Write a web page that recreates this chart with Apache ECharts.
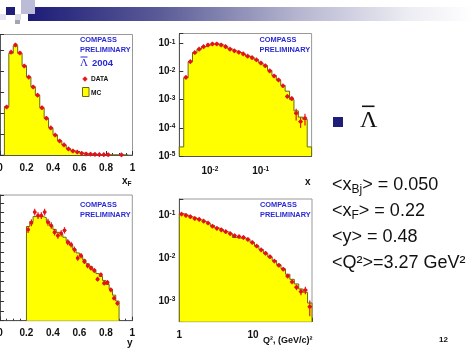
<!DOCTYPE html>
<html><head><meta charset="utf-8">
<script src="https://cdn.jsdelivr.net/npm/echarts@6/dist/echarts.min.js"></script>
<style>html,body{margin:0;padding:0;background:#fff;overflow:hidden}#c{width:474px;height:355px}</style>
</head><body><div id="c"></div>
<script>
// ---------- Panel 1 : x_F (linear) ----------
const xfFirstEdge = 1/30, xfBinWidth = 1/30;
const xfData = [2.29, 4.90, 5.24, 4.86, 4.24, 3.71, 3.24, 2.85, 2.25, 1.75, 1.29, 0.95, 0.67, 0.48, 0.29, 0.19, 0.14, 0.08, 0.05, 0.04, 0.03, 0.02, 0.02, 0.015, null, null, 0.01];
const xfErr  = [0.07, 0.09, 0.09, 0.09, 0.08, 0.08, 0.07, 0.07, 0.06, 0.06, 0.05, 0.05, 0.04, 0.04, 0.03, 0.03, 0.02, 0.02, 0.02, 0.01, 0.01, 0.01, 0.01, 0.01, null, null, 0.01];
const xfMC   = [2.30, 4.85, 5.20, 4.85, 4.25, 3.72, 3.25, 2.85, 2.25, 1.75, 1.30, 0.96, 0.68, 0.48, 0.30, 0.20, 0.14, 0.09, 0.06, 0.04, 0.03, 0.02, 0.015, 0.012, 0.01, 0.006, 0.005, 0.003];
const xfTicks = ['0', '0.2', '0.4', '0.6', '0.8', '1'];

// ---------- Panel 2 : x Bjorken (log-log), 30 bins in log10 from -2.6 to 0 ----------
const xBjLogStart = -2.6, xBjLogWidth = 2.6/30;
const xBjData = [6.2e-3, 2.24e-2, 4.7e-2, 6.2e-2, 7.6e-2, 8.7e-2, 9.5e-2, 9.5e-2, 8.7e-2, 7.6e-2, 6.2e-2, 5.4e-2, 4.8e-2, 4.2e-2, 3.5e-2, 3.1e-2, 2.6e-2, 2.0e-2, 1.6e-2, 1.05e-2, 6.9e-3, 5.0e-3, 3.1e-3, 1.3e-3, 1.1e-3, 3.3e-4, 1.66e-4, 2.2e-4]; // bins 1..28
const xBjErr  = [0.08, 0.04, 0.03, 0.03, 0.03, 0.03, 0.03, 0.03, 0.03, 0.03, 0.03, 0.03, 0.03, 0.03, 0.03, 0.03, 0.04, 0.04, 0.05, 0.06, 0.07, 0.08, 0.10, 0.15, 0.18, 0.45, 0.40, 0.45]; // relative
const xBjMC   = [2.1e-5, 6.0e-3, 2.2e-2, 4.6e-2, 6.2e-2, 7.6e-2, 8.7e-2, 9.4e-2, 9.4e-2, 8.8e-2, 7.7e-2, 6.3e-2, 5.4e-2, 4.8e-2, 4.2e-2, 3.5e-2, 3.1e-2, 2.6e-2, 2.0e-2, 1.6e-2, 1.1e-2, 7.2e-3, 5.0e-3, 3.2e-3, 2.0e-3, 1.0e-3, 4.0e-4, 2.4e-4, 2.0e-4, 2.1e-5]; // bins 0..29
const xBjXTicks = [1e-2, 1e-1], xBjXLabels = ['10{e|-2}', '10{e|-1}'];
const xBjYTicks = [1e-5, 1e-4, 1e-3, 1e-2, 1e-1], xBjYLabels = ['10{e|-5}', '10{e|-4}', '10{e|-3}', '10{e|-2}', '10{e|-1}'];

// ---------- Panel 3 : y (linear), 28 bins from 0.2 to 0.9 ----------
const yFirstEdge = 0.2, yBinWidth = 0.025;
const yData = [9.28, 9.97, 11.06, 10.70, 10.70, 11.06, 10.03, 9.69, 9.01, 8.67, 8.90, 9.20, 7.99, 7.75, 7.24, 6.38, 6.62, 6.04, 5.60, 5.36, 5.12, 4.23, 4.68, 3.82, 3.89, 3.14, 2.29, 1.77];
const yErr  = [0.35, 0.35, 0.35, 0.35, 0.35, 0.35, 0.35, 0.33, 0.33, 0.32, 0.32, 0.32, 0.3, 0.3, 0.3, 0.28, 0.28, 0.27, 0.26, 0.26, 0.25, 0.24, 0.24, 0.23, 0.23, 0.22, 0.2, 0.18];
const yMC   = [9.6, 10.1, 10.6, 10.6, 10.6, 10.5, 10.1, 9.7, 9.3, 9.0, 8.8, 8.5, 8.1, 7.7, 7.3, 6.9, 6.6, 6.2, 5.8, 5.5, 5.2, 4.8, 4.5, 4.1, 3.7, 3.2, 2.6, 2.0];
const yTicks = ['0', '0.2', '0.4', '0.6', '0.8', '1'];

// ---------- Panel 4 : Q^2 (log-log), 30 bins in log10 from 0 to 1.8 ----------
const q2LogStart = 0, q2LogWidth = 0.06;
const q2Data = [0.105, 0.098, 0.091, 0.083, 0.079, 0.072, 0.065, 0.055, 0.049, 0.045, 0.041, 0.037, 0.033, 0.0316, 0.030, 0.027, 0.023, 0.019, 0.0155, 0.0129, 0.0107, 0.0085, 0.0068, 0.0055, 0.0038, 0.0028, 0.0021, 0.00166, 0.0018, 0.00074];
const q2Err  = [0.02, 0.02, 0.02, 0.02, 0.02, 0.02, 0.02, 0.03, 0.03, 0.03, 0.03, 0.03, 0.03, 0.03, 0.04, 0.04, 0.04, 0.05, 0.05, 0.06, 0.06, 0.07, 0.08, 0.09, 0.10, 0.12, 0.15, 0.18, 0.20, 0.40];
const q2MC   = [0.108, 0.099, 0.091, 0.084, 0.078, 0.071, 0.064, 0.057, 0.050, 0.046, 0.041, 0.037, 0.030, 0.029, 0.029, 0.027, 0.023, 0.019, 0.0158, 0.0128, 0.0106, 0.0087, 0.0070, 0.0056, 0.0042, 0.0032, 0.0025, 0.0019, 0.0016, 0.0009];
const q2XTicks = [1, 10], q2XLabels = ['1', '10'];
const q2YTicks = [1e-3, 1e-2, 1e-1], q2YLabels = ['10{e|-3}', '10{e|-2}', '10{e|-1}'];

// ---------- helpers ----------
const linEdges = (start, w, n) => Array.from({length: n + 1}, (_, i) => start + i * w);
const logEdges = (start, w, n) => Array.from({length: n + 1}, (_, i) => Math.pow(10, start + i * w));

function stepPoints(edges, vals, base) {
  const pts = [[edges[0], base]];
  vals.forEach((v, i) => pts.push([edges[i], v == null ? base : v]));
  const n = vals.length;
  pts.push([edges[n], vals[n - 1] == null ? base : vals[n - 1]]);
  pts.push([edges[n], base]);
  return pts;
}
function dataPoints(edges, vals, errs, relative, logx) {
  const out = [];
  vals.forEach((v, i) => {
    if (v == null) return;
    const lo = edges[i], hi = edges[i + 1];
    const c = logx ? Math.sqrt(lo * hi) : (lo + hi) / 2;
    const e = relative ? v * errs[i] : errs[i];
    out.push([c, v, v - e, v + e, lo, hi]);
  });
  return out;
}
const RED = '#e3121b';
function renderData(params, api) {
  const c = api.coord([api.value(0), api.value(1)]);
  const lo = api.coord([api.value(0), api.value(2)]);
  const hi = api.coord([api.value(0), api.value(3)]);
  const l = api.coord([api.value(4), api.value(1)]);
  const r = api.coord([api.value(5), api.value(1)]);
  const st = {stroke: RED, lineWidth: 1.2};
  const y1 = Math.max(lo[1], c[1] + 2.3), y2 = Math.min(hi[1], c[1] - 2.3);
  return {type: 'group', children: [
    {type: 'line', shape: {x1: c[0], y1: y1, x2: c[0], y2: y2}, style: st},
    {type: 'line', shape: {x1: l[0], y1: c[1], x2: r[0], y2: c[1]}, style: st},
    {type: 'circle', shape: {cx: c[0], cy: c[1], r: 1.9}, style: {fill: RED}}
  ]};
}

// edges
const xfEdges = linEdges(xfFirstEdge, xfBinWidth, xfMC.length);
const xfDataEdges = linEdges(xfFirstEdge, xfBinWidth, xfData.length);
const xBjEdges = logEdges(xBjLogStart, xBjLogWidth, xBjMC.length);
const xBjDataEdges = xBjEdges.slice(1);
const yEdges = linEdges(yFirstEdge, yBinWidth, yMC.length);
const q2Edges = logEdges(q2LogStart, q2LogWidth, q2MC.length);

const P2YMIN = 1e-5, P2YMAX = Math.pow(10, -0.652);
const P4YMIN = Math.pow(10, -3.48), P4YMAX = Math.pow(10, -0.628);

const FONT = 'Liberation Sans';
const labBase = {fontFamily: FONT, fontWeight: 'bold', fontSize: 10, color: '#111',
  rich: {e: {fontFamily: FONT, fontWeight: 'bold', fontSize: 6.5, lineHeight: 7, verticalAlign: 'top', color: '#111'}}};
const tick = {show: true, inside: true, length: 4, lineStyle: {color: '#333', width: 1}};
const axLine = {show: true, lineStyle: {color: '#555', width: 1}};
function logFmt(ticks, labels) {
  return v => {
    const i = ticks.findIndex(t => Math.abs(Math.log10(t) - Math.log10(v)) < 1e-6);
    return i < 0 ? '' : labels[i];
  };
}
const gridBase = {show: true, borderColor: '#999', borderWidth: 1, backgroundColor: 'transparent', containLabel: false, outerBoundsMode: 'none'};

const chart = echarts.init(document.getElementById('c'), null, {renderer: 'canvas'});
const option = {
  animation: false,
  backgroundColor: '#fff',
  grid: [
    Object.assign({left: 0, top: 34.5, width: 132.5, height: 120.5}, gridBase),
    Object.assign({left: 179.3, top: 33.5, width: 132.3, height: 122.5}, gridBase),
    Object.assign({left: 0, top: 195, width: 132.3, height: 125.7}, gridBase),
    Object.assign({left: 179.3, top: 199, width: 132.7, height: 122.7}, gridBase)
  ],
  xAxis: [
    {gridIndex: 0, type: 'value', min: 0, max: 1, interval: 0.2, axisLine: axLine, axisTick: tick,
     minorTick: {show: true, splitNumber: 4, length: 2, lineStyle: {color: '#333'}}, splitLine: {show: false},
     axisLabel: Object.assign({margin: 8, formatter: (v, i) => xfTicks[i]}, labBase)},
    {gridIndex: 1, type: 'log', min: Math.pow(10, xBjLogStart), max: 1, axisLine: axLine, axisTick: tick,
     minorTick: {show: true, splitNumber: 9, length: 2, lineStyle: {color: '#333'}}, splitLine: {show: false},
     axisLabel: Object.assign({margin: 10, formatter: logFmt(xBjXTicks, xBjXLabels), showMinLabel: true, showMaxLabel: true}, labBase)},
    {gridIndex: 2, type: 'value', min: 0, max: 1, interval: 0.2, axisLine: axLine, axisTick: tick,
     minorTick: {show: true, splitNumber: 4, length: 2, lineStyle: {color: '#333'}}, splitLine: {show: false},
     axisLabel: Object.assign({margin: 8, formatter: (v, i) => yTicks[i]}, labBase)},
    {gridIndex: 3, type: 'log', min: 1, max: Math.pow(10, 1.8), axisLine: axLine, axisTick: tick,
     minorTick: {show: true, splitNumber: 9, length: 2, lineStyle: {color: '#333'}}, splitLine: {show: false},
     axisLabel: Object.assign({margin: 9, formatter: logFmt(q2XTicks, q2XLabels)}, labBase)}
  ],
  yAxis: [
    {gridIndex: 0, type: 'value', min: 0, max: 5.74, interval: 1, axisLine: axLine, axisTick: tick,
     splitLine: {show: false}, axisLabel: {show: false}},
    {gridIndex: 1, type: 'log', min: P2YMIN, max: P2YMAX, axisLine: axLine, axisTick: tick,
     splitLine: {show: false}, axisLabel: Object.assign({margin: 4, formatter: logFmt(xBjYTicks, xBjYLabels)}, labBase)},
    {gridIndex: 2, type: 'value', min: 0, max: 12.8, interval: 1, axisLine: axLine, axisTick: tick,
     splitLine: {show: false}, axisLabel: {show: false}},
    {gridIndex: 3, type: 'log', min: P4YMIN, max: P4YMAX, axisLine: axLine, axisTick: tick,
     splitLine: {show: false}, axisLabel: Object.assign({margin: 4, formatter: logFmt(q2YTicks, q2YLabels)}, labBase)}
  ],
  series: [
    {name: 'MC', type: 'line', xAxisIndex: 0, yAxisIndex: 0, step: 'end', symbol: 'none', silent: true, z: 2,
     data: stepPoints(xfEdges, xfMC, 0), lineStyle: {color: '#6a6a10', width: 1}, areaStyle: {color: '#ffff00', opacity: 1}},
    {name: 'MC', type: 'line', xAxisIndex: 1, yAxisIndex: 1, step: 'end', symbol: 'none', silent: true, z: 2,
     data: stepPoints(xBjEdges, xBjMC, P2YMIN), lineStyle: {color: '#6a6a10', width: 1}, areaStyle: {color: '#ffff00', opacity: 1, origin: 'start'}},
    {name: 'MC', type: 'line', xAxisIndex: 2, yAxisIndex: 2, step: 'end', symbol: 'none', silent: true, z: 2,
     data: stepPoints(yEdges, yMC, 0), lineStyle: {color: '#6a6a10', width: 1}, areaStyle: {color: '#ffff00', opacity: 1}},
    {name: 'MC', type: 'line', xAxisIndex: 3, yAxisIndex: 3, step: 'end', symbol: 'none', silent: true, z: 2,
     data: stepPoints(q2Edges, q2MC, P4YMIN), lineStyle: {color: '#6a6a10', width: 1}, areaStyle: {color: '#ffff00', opacity: 1, origin: 'start'}},
    {name: 'DATA', type: 'custom', xAxisIndex: 0, yAxisIndex: 0, renderItem: renderData, z: 5, silent: true,
     encode: {x: 0, y: 1}, data: dataPoints(xfDataEdges, xfData, xfErr, false, false)},
    {name: 'DATA', type: 'custom', xAxisIndex: 1, yAxisIndex: 1, renderItem: renderData, z: 5, silent: true,
     encode: {x: 0, y: 1}, data: dataPoints(xBjDataEdges, xBjData, xBjErr, true, true)},
    {name: 'DATA', type: 'custom', xAxisIndex: 2, yAxisIndex: 2, renderItem: renderData, z: 5, silent: true,
     encode: {x: 0, y: 1}, data: dataPoints(yEdges, yData, yErr, false, false)},
    {name: 'DATA', type: 'custom', xAxisIndex: 3, yAxisIndex: 3, renderItem: renderData, z: 5, silent: true,
     encode: {x: 0, y: 1}, data: dataPoints(q2Edges, q2Data, q2Err, true, true)}
  ],
  graphic: [
    // banner
    {type: 'rect', shape: {x: 28, y: 7, width: 446, height: 14}, silent: true,
     style: {fill: new echarts.graphic.LinearGradient(0, 0, 1, 0, [
       {offset: 0, color: '#1c1c78'}, {offset: 0.3, color: '#5c5c98'}, {offset: 0.6, color: '#b4b4cf'},
       {offset: 0.85, color: '#ececf3'}, {offset: 1, color: '#ffffff'}])}},
    {type: 'rect', shape: {x: 21, y: 0, width: 14, height: 14}, style: {fill: '#bcbcd9'}, silent: true},
    {type: 'rect', shape: {x: 6, y: 7, width: 9, height: 8}, style: {fill: '#1e1e7a'}, silent: true},
    {type: 'rect', shape: {x: 15, y: 14, width: 6, height: 6}, style: {fill: '#dcdce6'}, silent: true},
    {type: 'rect', shape: {x: 15, y: 20, width: 5, height: 4}, style: {fill: '#a4a4b4'}, silent: true},
    {type: 'rect', shape: {x: 0, y: 14, width: 6, height: 6}, style: {fill: '#e4e4ee'}, silent: true},
    // COMPASS labels
    ...[[80, 40], [259.5, 40], [80, 205], [260, 205]].flatMap(p => [
      {type: 'text', x: p[0], y: p[1], silent: true, style: {text: 'COMPASS', fill: '#2a2ad2', font: 'bold 7.4px "Liberation Sans"', verticalAlign: 'middle'}},
      {type: 'text', x: p[0], y: p[1] + 9.5, silent: true, style: {text: 'PRELIMINARY', fill: '#2a2ad2', font: 'bold 7.4px "Liberation Sans"', verticalAlign: 'middle'}}
    ]),
    // panel 1 title & legend
    {type: 'text', x: 80, y: 63.5, silent: true, style: {text: 'Λ', fill: '#2a2ad2', font: '11px "Liberation Serif"', verticalAlign: 'middle'}},
    {type: 'rect', shape: {x: 80.5, y: 56.5, width: 7, height: 1}, style: {fill: '#2a2ad2'}, silent: true},
    {type: 'text', x: 92, y: 63.5, silent: true, style: {text: '2004', fill: '#2a2ad2', font: 'bold 9.5px "Liberation Sans"', verticalAlign: 'middle'}},
    {type: 'circle', shape: {cx: 85, cy: 79, r: 1.9}, style: {fill: RED}, silent: true},
    {type: 'line', shape: {x1: 82.5, y1: 79, x2: 87.5, y2: 79}, style: {stroke: RED, lineWidth: 1}, silent: true},
    {type: 'line', shape: {x1: 85, y1: 76.5, x2: 85, y2: 81.5}, style: {stroke: RED, lineWidth: 1}, silent: true},
    {type: 'text', x: 91, y: 79.5, silent: true, style: {text: 'DATA', fill: '#111', font: 'bold 6.6px "Liberation Sans"', verticalAlign: 'middle'}},
    {type: 'rect', shape: {x: 82.5, y: 87.5, width: 6.5, height: 9}, style: {fill: '#ffff00', stroke: '#6a6a10', lineWidth: 1}, silent: true},
    {type: 'text', x: 91, y: 93, silent: true, style: {text: 'MC', fill: '#111', font: 'bold 6.6px "Liberation Sans"', verticalAlign: 'middle'}},
    // axis titles
    {type: 'text', x: 122, y: 181, silent: true, style: {text: 'x{s|F}', fill: '#111', font: 'bold 10px "Liberation Sans"', verticalAlign: 'middle',
      rich: {s: {fontFamily: FONT, fontWeight: 'bold', fontSize: 6.5, padding: [6, 0, 0, 0], fill: '#111'}}}},
    {type: 'text', x: 305, y: 182, silent: true, style: {text: 'x', fill: '#111', font: 'bold 10px "Liberation Sans"', verticalAlign: 'middle'}},
    {type: 'text', x: 127, y: 343, silent: true, style: {text: 'y', fill: '#111', font: 'bold 10px "Liberation Sans"', verticalAlign: 'middle'}},
    {type: 'text', x: 263, y: 340.5, silent: true, style: {text: 'Q², (GeV/c)²', fill: '#111', font: 'bold 9px "Liberation Sans"', verticalAlign: 'middle'}},
    // right side text
    {type: 'rect', shape: {x: 333, y: 117, width: 10, height: 10}, style: {fill: '#1e1e7a'}, silent: true},
    {type: 'text', x: 360, y: 120.5, silent: true, style: {text: 'Λ', fill: '#111', font: '24px "Liberation Serif"', verticalAlign: 'middle'}},
    {type: 'rect', shape: {x: 362, y: 105.5, width: 12.5, height: 1.6}, style: {fill: '#111'}, silent: true},
    ...[['<x{s|Bj}> = 0.050', 185], ['<x{s|F}> = 0.22', 211.5], ['<y> = 0.48', 237], ['<Q²>=3.27 GeV²', 263.5]].map(t => (
      {type: 'text', x: 332, y: t[1], silent: true, style: {text: t[0], fill: '#111', font: '18px "Liberation Sans"', verticalAlign: 'middle',
        rich: {s: {fontFamily: FONT, fontSize: 12, padding: [9, 0, 0, 0], fill: '#111'}}}})),
    {type: 'text', x: 443.5, y: 340, silent: true, style: {text: '12', fill: '#111', font: 'bold 8px "Liberation Sans"', align: 'center', verticalAlign: 'middle'}}
  ]
};
chart.setOption(option);
</script>
</body></html>
